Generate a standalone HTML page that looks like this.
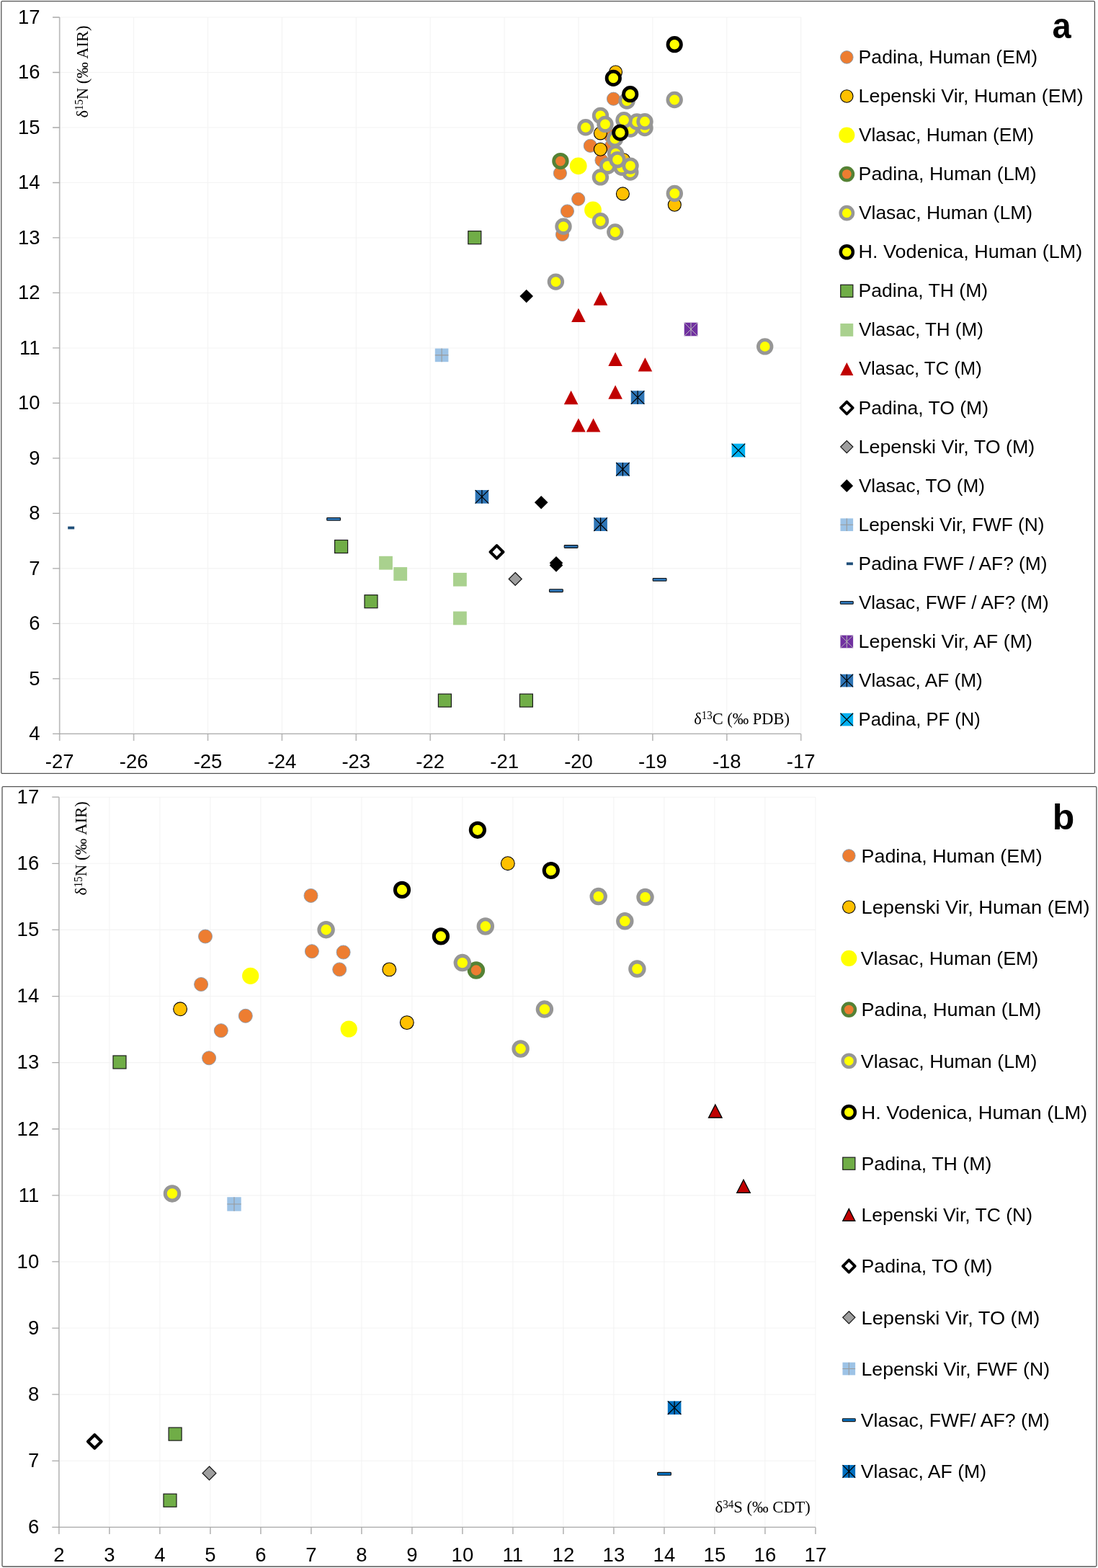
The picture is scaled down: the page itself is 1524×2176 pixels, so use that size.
<!DOCTYPE html><html><head><meta charset="utf-8"><title>Isotope scatter plots</title>
<style>html,body{margin:0;padding:0;background:#fff;}body{width:1524px;height:2176px;overflow:hidden;}svg{display:block;}</style></head><body>
<svg width="1524" height="2176" viewBox="0 0 1524 2176">
<rect width="1524" height="2176" fill="#fff"/>
<rect x="1.8" y="1.6" width="1517.6" height="1071.8" rx="1.5" fill="none" stroke="#555" stroke-width="1.3"/>
<rect x="3.0" y="1091.6" width="1518.9" height="1082.4" rx="1.5" fill="none" stroke="#555" stroke-width="1.3"/>
<path d="M185.6 24V1018.4M288.5 24V1018.4M391.4 24V1018.4M494.3 24V1018.4M597.2 24V1018.4M700.1 24V1018.4M803 24V1018.4M905.9 24V1018.4M1008.8 24V1018.4M1111.7 24V1018.4M82.7 24H1111.7M82.7 100.49H1111.7M82.7 176.98H1111.7M82.7 253.48H1111.7M82.7 329.97H1111.7M82.7 406.46H1111.7M82.7 482.95H1111.7M82.7 559.45H1111.7M82.7 635.94H1111.7M82.7 712.43H1111.7M82.7 788.92H1111.7M82.7 865.42H1111.7M82.7 941.91H1111.7" stroke="#F3F3F3" stroke-width="1.1" fill="none"/>
<path d="M82.7 24V1018.4M82.7 1018.4V1027.9M185.6 1018.4V1027.9M288.5 1018.4V1027.9M391.4 1018.4V1027.9M494.3 1018.4V1027.9M597.2 1018.4V1027.9M700.1 1018.4V1027.9M803 1018.4V1027.9M905.9 1018.4V1027.9M1008.8 1018.4V1027.9M1111.7 1018.4V1027.9" stroke="#BBBBBB" stroke-width="1.7" fill="none"/>
<path d="M82.7 1018.4H1111.7M73.1 24H82.7M73.1 100.49H82.7M73.1 176.98H82.7M73.1 253.48H82.7M73.1 329.97H82.7M73.1 406.46H82.7M73.1 482.95H82.7M73.1 559.45H82.7M73.1 635.94H82.7M73.1 712.43H82.7M73.1 788.92H82.7M73.1 865.42H82.7M73.1 941.91H82.7M73.1 1018.4H82.7" stroke="#A8A8A8" stroke-width="1.3" fill="none"/>
<g font-family='"Liberation Sans", Arial, sans-serif' font-size="27.5" fill="#000">
<text x="55.6" y="33" text-anchor="end">17</text>
<text x="55.6" y="109.49" text-anchor="end">16</text>
<text x="55.6" y="185.98" text-anchor="end">15</text>
<text x="55.6" y="262.48" text-anchor="end">14</text>
<text x="55.6" y="338.97" text-anchor="end">13</text>
<text x="55.6" y="415.46" text-anchor="end">12</text>
<text x="55.6" y="491.95" text-anchor="end">11</text>
<text x="55.6" y="568.45" text-anchor="end">10</text>
<text x="55.6" y="644.94" text-anchor="end">9</text>
<text x="55.6" y="721.43" text-anchor="end">8</text>
<text x="55.6" y="797.92" text-anchor="end">7</text>
<text x="55.6" y="874.42" text-anchor="end">6</text>
<text x="55.6" y="950.91" text-anchor="end">5</text>
<text x="55.6" y="1027.4" text-anchor="end">4</text>
<text x="82.7" y="1066.2" text-anchor="middle">-27</text>
<text x="185.6" y="1066.2" text-anchor="middle">-26</text>
<text x="288.5" y="1066.2" text-anchor="middle">-25</text>
<text x="391.4" y="1066.2" text-anchor="middle">-24</text>
<text x="494.3" y="1066.2" text-anchor="middle">-23</text>
<text x="597.2" y="1066.2" text-anchor="middle">-22</text>
<text x="700.1" y="1066.2" text-anchor="middle">-21</text>
<text x="803" y="1066.2" text-anchor="middle">-20</text>
<text x="905.9" y="1066.2" text-anchor="middle">-19</text>
<text x="1008.8" y="1066.2" text-anchor="middle">-18</text>
<text x="1111.7" y="1066.2" text-anchor="middle">-17</text>
</g>
<path d="M151.9 1106.2V2119.4M221.9 1106.2V2119.4M291.9 1106.2V2119.4M361.9 1106.2V2119.4M431.9 1106.2V2119.4M501.9 1106.2V2119.4M571.9 1106.2V2119.4M641.9 1106.2V2119.4M711.9 1106.2V2119.4M781.9 1106.2V2119.4M851.9 1106.2V2119.4M921.9 1106.2V2119.4M991.9 1106.2V2119.4M1061.9 1106.2V2119.4M1131.9 1106.2V2119.4M81.9 1106.2H1131.9M81.9 1198.31H1131.9M81.9 1290.42H1131.9M81.9 1382.53H1131.9M81.9 1474.64H1131.9M81.9 1566.75H1131.9M81.9 1658.85H1131.9M81.9 1750.96H1131.9M81.9 1843.07H1131.9M81.9 1935.18H1131.9M81.9 2027.29H1131.9" stroke="#F3F3F3" stroke-width="1.1" fill="none"/>
<path d="M81.9 1106.2V2119.4M81.9 2119.4V2128.9M151.9 2119.4V2128.9M221.9 2119.4V2128.9M291.9 2119.4V2128.9M361.9 2119.4V2128.9M431.9 2119.4V2128.9M501.9 2119.4V2128.9M571.9 2119.4V2128.9M641.9 2119.4V2128.9M711.9 2119.4V2128.9M781.9 2119.4V2128.9M851.9 2119.4V2128.9M921.9 2119.4V2128.9M991.9 2119.4V2128.9M1061.9 2119.4V2128.9M1131.9 2119.4V2128.9" stroke="#BBBBBB" stroke-width="1.7" fill="none"/>
<path d="M81.9 2119.4H1131.9M72.3 1106.2H81.9M72.3 1198.31H81.9M72.3 1290.42H81.9M72.3 1382.53H81.9M72.3 1474.64H81.9M72.3 1566.75H81.9M72.3 1658.85H81.9M72.3 1750.96H81.9M72.3 1843.07H81.9M72.3 1935.18H81.9M72.3 2027.29H81.9M72.3 2119.4H81.9" stroke="#A8A8A8" stroke-width="1.3" fill="none"/>
<g font-family='"Liberation Sans", Arial, sans-serif' font-size="27.5" fill="#000">
<text x="54.2" y="1115" text-anchor="end">17</text>
<text x="54.2" y="1207.11" text-anchor="end">16</text>
<text x="54.2" y="1299.22" text-anchor="end">15</text>
<text x="54.2" y="1391.33" text-anchor="end">14</text>
<text x="54.2" y="1483.44" text-anchor="end">13</text>
<text x="54.2" y="1575.55" text-anchor="end">12</text>
<text x="54.2" y="1667.65" text-anchor="end">11</text>
<text x="54.2" y="1759.76" text-anchor="end">10</text>
<text x="54.2" y="1851.87" text-anchor="end">9</text>
<text x="54.2" y="1943.98" text-anchor="end">8</text>
<text x="54.2" y="2036.09" text-anchor="end">7</text>
<text x="54.2" y="2128.2" text-anchor="end">6</text>
<text x="81.9" y="2167.3" text-anchor="middle">2</text>
<text x="151.9" y="2167.3" text-anchor="middle">3</text>
<text x="221.9" y="2167.3" text-anchor="middle">4</text>
<text x="291.9" y="2167.3" text-anchor="middle">5</text>
<text x="361.9" y="2167.3" text-anchor="middle">6</text>
<text x="431.9" y="2167.3" text-anchor="middle">7</text>
<text x="501.9" y="2167.3" text-anchor="middle">8</text>
<text x="571.9" y="2167.3" text-anchor="middle">9</text>
<text x="641.9" y="2167.3" text-anchor="middle">10</text>
<text x="711.9" y="2167.3" text-anchor="middle">11</text>
<text x="781.9" y="2167.3" text-anchor="middle">12</text>
<text x="851.9" y="2167.3" text-anchor="middle">13</text>
<text x="921.9" y="2167.3" text-anchor="middle">14</text>
<text x="991.9" y="2167.3" text-anchor="middle">15</text>
<text x="1061.9" y="2167.3" text-anchor="middle">16</text>
<text x="1131.9" y="2167.3" text-anchor="middle">17</text>
</g>
<g font-family='"Liberation Serif", "Times New Roman", serif' fill="#000">
<text transform="translate(121.6 163.6) rotate(-90)" x="0" y="0" font-size="23.6" textLength="128" lengthAdjust="spacingAndGlyphs">&#948;<tspan font-size="15.7" dy="-6.8">15</tspan><tspan dy="6.8">N (&#8240; AIR)</tspan></text>
<text transform="translate(963.2 1004.5)" x="0" y="0" font-size="23.6" textLength="132.8" lengthAdjust="spacingAndGlyphs">&#948;<tspan font-size="15.7" dy="-6.8">13</tspan><tspan dy="6.8">C (&#8240; PDB)</tspan></text>
<text transform="translate(120.4 1242.4) rotate(-90)" x="0" y="0" font-size="23.6" textLength="130.4" lengthAdjust="spacingAndGlyphs">&#948;<tspan font-size="15.7" dy="-6.8">15</tspan><tspan dy="6.8">N (&#8240; AIR)</tspan></text>
<text transform="translate(992.5 2099.4)" x="0" y="0" font-size="23.6" textLength="132.4" lengthAdjust="spacingAndGlyphs">&#948;<tspan font-size="15.7" dy="-6.8">34</tspan><tspan dy="6.8">S (&#8240; CDT)</tspan></text>
</g>
<circle cx="851.5" cy="137.2" r="9.1" fill="#ED7D31" stroke="#8797AA" stroke-width="0.9"/>
<circle cx="846.5" cy="188" r="9.1" fill="#ED7D31" stroke="#8797AA" stroke-width="0.9"/>
<circle cx="819.3" cy="202.3" r="9.1" fill="#ED7D31" stroke="#8797AA" stroke-width="0.9"/>
<circle cx="848.5" cy="202.5" r="9.1" fill="#ED7D31" stroke="#8797AA" stroke-width="0.9"/>
<circle cx="835" cy="222.5" r="9.1" fill="#ED7D31" stroke="#8797AA" stroke-width="0.9"/>
<circle cx="777.4" cy="240.4" r="9.1" fill="#ED7D31" stroke="#8797AA" stroke-width="0.9"/>
<circle cx="802.7" cy="276.3" r="9.1" fill="#ED7D31" stroke="#8797AA" stroke-width="0.9"/>
<circle cx="787.4" cy="293" r="9.1" fill="#ED7D31" stroke="#8797AA" stroke-width="0.9"/>
<circle cx="780.5" cy="325.5" r="9.1" fill="#ED7D31" stroke="#8797AA" stroke-width="0.9"/>
<circle cx="854.5" cy="100" r="9" fill="#FFC000" stroke="#000" stroke-width="1.1"/>
<circle cx="833.4" cy="184.9" r="9" fill="#FFC000" stroke="#000" stroke-width="1.1"/>
<circle cx="833.4" cy="207.2" r="9" fill="#FFC000" stroke="#000" stroke-width="1.1"/>
<circle cx="865.5" cy="221.8" r="9" fill="#FFC000" stroke="#000" stroke-width="1.1"/>
<circle cx="864.4" cy="268.9" r="9" fill="#FFC000" stroke="#000" stroke-width="1.1"/>
<circle cx="936.3" cy="284.2" r="9" fill="#FFC000" stroke="#000" stroke-width="1.1"/>
<circle cx="802.7" cy="230.3" r="11.9" fill="#FFFF00"/>
<circle cx="823" cy="291.5" r="11.9" fill="#FFFF00"/>
<circle cx="777.9" cy="223.6" r="9.3" fill="#ED7D31" stroke="#548235" stroke-width="4.8"/>
<circle cx="936.2" cy="138.5" r="9.3" fill="#FFFF00" stroke="#969696" stroke-width="4.8"/>
<circle cx="870.1" cy="140" r="9.3" fill="#FFFF00" stroke="#969696" stroke-width="4.8"/>
<circle cx="833.5" cy="160.5" r="9.3" fill="#FFFF00" stroke="#969696" stroke-width="4.8"/>
<circle cx="840" cy="172.4" r="9.3" fill="#FFFF00" stroke="#969696" stroke-width="4.8"/>
<circle cx="812.9" cy="176.8" r="9.3" fill="#FFFF00" stroke="#969696" stroke-width="4.8"/>
<circle cx="875.2" cy="179" r="9.3" fill="#FFFF00" stroke="#969696" stroke-width="4.8"/>
<circle cx="895" cy="177.5" r="9.3" fill="#FFFF00" stroke="#969696" stroke-width="4.8"/>
<circle cx="884" cy="169" r="9.3" fill="#FFFF00" stroke="#969696" stroke-width="4.8"/>
<circle cx="866" cy="166.7" r="9.3" fill="#FFFF00" stroke="#969696" stroke-width="4.8"/>
<circle cx="895" cy="168.7" r="9.3" fill="#FFFF00" stroke="#969696" stroke-width="4.8"/>
<circle cx="853.5" cy="192.7" r="9.3" fill="#FFFF00" stroke="#969696" stroke-width="4.8"/>
<circle cx="874.8" cy="239.1" r="9.3" fill="#FFFF00" stroke="#969696" stroke-width="4.8"/>
<circle cx="863" cy="232.3" r="9.3" fill="#FFFF00" stroke="#969696" stroke-width="4.8"/>
<circle cx="854.5" cy="212.9" r="9.3" fill="#FFFF00" stroke="#969696" stroke-width="4.8"/>
<circle cx="843.5" cy="230.3" r="9.3" fill="#FFFF00" stroke="#969696" stroke-width="4.8"/>
<circle cx="857" cy="221.7" r="9.3" fill="#FFFF00" stroke="#969696" stroke-width="4.8"/>
<circle cx="875" cy="230.1" r="9.3" fill="#FFFF00" stroke="#969696" stroke-width="4.8"/>
<circle cx="833.4" cy="245.9" r="9.3" fill="#FFFF00" stroke="#969696" stroke-width="4.8"/>
<circle cx="936.3" cy="268.5" r="9.3" fill="#FFFF00" stroke="#969696" stroke-width="4.8"/>
<circle cx="833.5" cy="306.8" r="9.3" fill="#FFFF00" stroke="#969696" stroke-width="4.8"/>
<circle cx="853.8" cy="322" r="9.3" fill="#FFFF00" stroke="#969696" stroke-width="4.8"/>
<circle cx="782" cy="314.3" r="9.3" fill="#FFFF00" stroke="#969696" stroke-width="4.8"/>
<circle cx="771.4" cy="391.1" r="9.3" fill="#FFFF00" stroke="#969696" stroke-width="4.8"/>
<circle cx="1061.7" cy="480.9" r="9.3" fill="#FFFF00" stroke="#969696" stroke-width="4.8"/>
<circle cx="936.2" cy="61.7" r="9.2" fill="#FFFF00" stroke="#000" stroke-width="4.8"/>
<circle cx="851.3" cy="108.4" r="9.2" fill="#FFFF00" stroke="#000" stroke-width="4.8"/>
<circle cx="874.7" cy="130.7" r="9.2" fill="#FFFF00" stroke="#000" stroke-width="4.8"/>
<circle cx="860.8" cy="184.1" r="9.2" fill="#FFFF00" stroke="#000" stroke-width="4.8"/>
<rect x="649.8" y="320.7" width="18" height="18" fill="#70AD47" stroke="#1a1a1a" stroke-width="1.2"/>
<rect x="464.6" y="749.5" width="18" height="18" fill="#70AD47" stroke="#1a1a1a" stroke-width="1.2"/>
<rect x="506" y="825.7" width="18" height="18" fill="#70AD47" stroke="#1a1a1a" stroke-width="1.2"/>
<rect x="608.4" y="963.1" width="18" height="18" fill="#70AD47" stroke="#1a1a1a" stroke-width="1.2"/>
<rect x="721.4" y="963.1" width="18" height="18" fill="#70AD47" stroke="#1a1a1a" stroke-width="1.2"/>
<rect x="526.1" y="771.8" width="18.8" height="18.8" fill="#A9D18E"/>
<rect x="546.3" y="787.1" width="18.8" height="18.8" fill="#A9D18E"/>
<rect x="629" y="794.9" width="18.8" height="18.8" fill="#A9D18E"/>
<rect x="629" y="848.5" width="18.8" height="18.8" fill="#A9D18E"/>
<path d="M833.5 404.6L843.3 423.8L823.7 423.8Z" fill="#C00000"/>
<path d="M802.9 427.7L812.7 446.9L793.1 446.9Z" fill="#C00000"/>
<path d="M854.1 488.7L863.9 507.9L844.3 507.9Z" fill="#C00000"/>
<path d="M895.4 496.2L905.2 515.4L885.6 515.4Z" fill="#C00000"/>
<path d="M854.1 534.6L863.9 553.8L844.3 553.8Z" fill="#C00000"/>
<path d="M792.6 542L802.4 561.2L782.8 561.2Z" fill="#C00000"/>
<path d="M802.9 580.4L812.7 599.6L793.1 599.6Z" fill="#C00000"/>
<path d="M823.6 580.4L833.4 599.6L813.8 599.6Z" fill="#C00000"/>
<path d="M689.5 757.1L698.4 766L689.5 774.9L680.6 766Z" fill="#fff" stroke="#000" stroke-width="4" stroke-linejoin="round"/>
<path d="M715.2 794.5L724.2 803.5L715.2 812.5L706.2 803.5Z" fill="#9E9E9E" stroke="#111" stroke-width="1.2"/>
<path d="M730.7 401.7L740 411L730.7 420.3L721.4 411Z" fill="#000"/>
<path d="M751.2 688L760.5 697.3L751.2 706.6L741.9 697.3Z" fill="#000"/>
<path d="M772 772L781.3 781.3L772 790.6L762.7 781.3Z" fill="#000"/>
<path d="M772 775.2L781.3 784.5L772 793.8L762.7 784.5Z" fill="#000"/>
<rect x="603.8" y="483.6" width="18.6" height="18.6" fill="#9DC3E6"/><path d="M613.1 483.6V502.2M603.8 492.9H622.4" stroke="#9a9a9a" stroke-width="1.1"/>
<rect x="94.2" y="730.6" width="9" height="3.8" fill="#1F4E79"/>
<rect x="453.7" y="718.5" width="18.8" height="3.8" rx="0.8" fill="#2E75B6" stroke="#111" stroke-width="1.1"/>
<rect x="783.2" y="756.6" width="18.8" height="3.8" rx="0.8" fill="#2E75B6" stroke="#111" stroke-width="1.1"/>
<rect x="762.5" y="817.8" width="18.8" height="3.8" rx="0.8" fill="#2E75B6" stroke="#111" stroke-width="1.1"/>
<rect x="906.2" y="802.5" width="18.8" height="3.8" rx="0.8" fill="#2E75B6" stroke="#111" stroke-width="1.1"/>
<rect x="949.7" y="447.7" width="18.6" height="18.6" fill="#7030A0"/><path d="M949.7 447.7L968.3 466.3M968.3 447.7L949.7 466.3M959 447.7V466.3" stroke="#B8B8B8" stroke-width="1"/>
<rect x="875.8" y="542.3" width="18.6" height="18.6" fill="#2E75B6"/><path d="M875.8 542.3L894.4 560.9M894.4 542.3L875.8 560.9M885.1 542.3V560.9" stroke="#000" stroke-width="1.2"/>
<rect x="855.1" y="641.9" width="18.6" height="18.6" fill="#2E75B6"/><path d="M855.1 641.9L873.7 660.5M873.7 641.9L855.1 660.5M864.4 641.9V660.5" stroke="#000" stroke-width="1.2"/>
<rect x="659.6" y="680.1" width="18.6" height="18.6" fill="#2E75B6"/><path d="M659.6 680.1L678.2 698.7M678.2 680.1L659.6 698.7M668.9 680.1V698.7" stroke="#000" stroke-width="1.2"/>
<rect x="824.3" y="718.4" width="18.6" height="18.6" fill="#2E75B6"/><path d="M824.3 718.4L842.9 737M842.9 718.4L824.3 737M833.6 718.4V737" stroke="#000" stroke-width="1.2"/>
<rect x="1015.6" y="615.7" width="18.6" height="18.6" fill="#00B0F0"/><path d="M1015.6 615.7L1034.2 634.3M1034.2 615.7L1015.6 634.3" stroke="#000" stroke-width="1.2"/>
<circle cx="431.5" cy="1242.9" r="9.51" fill="#ED7D31" stroke="#8797AA" stroke-width="0.9"/>
<circle cx="285" cy="1299.5" r="9.51" fill="#ED7D31" stroke="#8797AA" stroke-width="0.9"/>
<circle cx="432.9" cy="1320.2" r="9.51" fill="#ED7D31" stroke="#8797AA" stroke-width="0.9"/>
<circle cx="476.6" cy="1321.5" r="9.51" fill="#ED7D31" stroke="#8797AA" stroke-width="0.9"/>
<circle cx="471.2" cy="1345.4" r="9.51" fill="#ED7D31" stroke="#8797AA" stroke-width="0.9"/>
<circle cx="279.1" cy="1366" r="9.51" fill="#ED7D31" stroke="#8797AA" stroke-width="0.9"/>
<circle cx="340.8" cy="1409.8" r="9.51" fill="#ED7D31" stroke="#8797AA" stroke-width="0.9"/>
<circle cx="306.8" cy="1430.2" r="9.51" fill="#ED7D31" stroke="#8797AA" stroke-width="0.9"/>
<circle cx="290.1" cy="1468.3" r="9.51" fill="#ED7D31" stroke="#8797AA" stroke-width="0.9"/>
<circle cx="704.8" cy="1198.2" r="9.4" fill="#FFC000" stroke="#000" stroke-width="1.1"/>
<circle cx="540.3" cy="1345.4" r="9.4" fill="#FFC000" stroke="#000" stroke-width="1.1"/>
<circle cx="250.1" cy="1400.3" r="9.4" fill="#FFC000" stroke="#000" stroke-width="1.1"/>
<circle cx="564.8" cy="1419.1" r="9.4" fill="#FFC000" stroke="#000" stroke-width="1.1"/>
<circle cx="347.7" cy="1354.3" r="11.6" fill="#FFFF00"/>
<circle cx="484.2" cy="1428" r="11.6" fill="#FFFF00"/>
<circle cx="660.9" cy="1346.5" r="9.72" fill="#ED7D31" stroke="#548235" stroke-width="5.02"/>
<circle cx="452.6" cy="1290.2" r="9.72" fill="#FFFF00" stroke="#969696" stroke-width="5.02"/>
<circle cx="830.7" cy="1244.1" r="9.72" fill="#FFFF00" stroke="#969696" stroke-width="5.02"/>
<circle cx="895.5" cy="1245.1" r="9.72" fill="#FFFF00" stroke="#969696" stroke-width="5.02"/>
<circle cx="867.3" cy="1278.3" r="9.72" fill="#FFFF00" stroke="#969696" stroke-width="5.02"/>
<circle cx="673.8" cy="1285.5" r="9.72" fill="#FFFF00" stroke="#969696" stroke-width="5.02"/>
<circle cx="641.8" cy="1336.1" r="9.72" fill="#FFFF00" stroke="#969696" stroke-width="5.02"/>
<circle cx="884.4" cy="1344.6" r="9.72" fill="#FFFF00" stroke="#969696" stroke-width="5.02"/>
<circle cx="755.9" cy="1400.6" r="9.72" fill="#FFFF00" stroke="#969696" stroke-width="5.02"/>
<circle cx="722.6" cy="1455.5" r="9.72" fill="#FFFF00" stroke="#969696" stroke-width="5.02"/>
<circle cx="239" cy="1656.4" r="9.72" fill="#FFFF00" stroke="#969696" stroke-width="5.02"/>
<circle cx="662.9" cy="1151.8" r="9.61" fill="#FFFF00" stroke="#000" stroke-width="5.02"/>
<circle cx="764.8" cy="1208" r="9.61" fill="#FFFF00" stroke="#000" stroke-width="5.02"/>
<circle cx="558" cy="1234.9" r="9.61" fill="#FFFF00" stroke="#000" stroke-width="5.02"/>
<circle cx="611.9" cy="1299.4" r="9.61" fill="#FFFF00" stroke="#000" stroke-width="5.02"/>
<rect x="157" y="1465" width="18" height="18" fill="#70AD47" stroke="#1a1a1a" stroke-width="1.2"/>
<rect x="234.1" y="1981.1" width="18" height="18" fill="#70AD47" stroke="#1a1a1a" stroke-width="1.2"/>
<rect x="227" y="2073.2" width="18" height="18" fill="#70AD47" stroke="#1a1a1a" stroke-width="1.2"/>
<path d="M992.8 1533L1002 1551L983.6 1551Z" fill="#C00000" stroke="#000" stroke-width="1.4" stroke-linejoin="miter"/>
<path d="M1032 1637.2L1041.2 1655.2L1022.8 1655.2Z" fill="#C00000" stroke="#000" stroke-width="1.4" stroke-linejoin="miter"/>
<path d="M131.3 1991.2L140.6 2000.5L131.3 2009.8L122 2000.5Z" fill="#fff" stroke="#000" stroke-width="4.18" stroke-linejoin="round"/>
<path d="M290.5 2035L299.9 2044.4L290.5 2053.81L281.1 2044.4Z" fill="#9E9E9E" stroke="#111" stroke-width="1.2"/>
<rect x="315.28" y="1661.28" width="19.44" height="19.44" fill="#9DC3E6"/><path d="M325 1661.28V1680.72M315.28 1671H334.72" stroke="#9a9a9a" stroke-width="1.1"/>
<rect x="912.6" y="2043.4" width="18.8" height="3.8" rx="0.8" fill="#0070C0" stroke="#111" stroke-width="1.1"/>
<rect x="926.8" y="1944.4" width="18.6" height="18.6" fill="#0070C0"/><path d="M926.8 1944.4L945.4 1963M945.4 1944.4L926.8 1963M936.1 1944.4V1963" stroke="#000" stroke-width="1.2"/>
<g font-family='"Liberation Sans", Arial, sans-serif' font-size="26" fill="#000">
<circle cx="1175.3" cy="79.4" r="8.83" fill="#ED7D31" stroke="#8797AA" stroke-width="0.9"/>
<text x="1191.6" y="87.9" textLength="248.4" lengthAdjust="spacingAndGlyphs">Padina, Human (EM)</text>
<circle cx="1175.3" cy="133.47" r="8.73" fill="#FFC000" stroke="#000" stroke-width="1.1"/>
<text x="1191.6" y="141.97" textLength="312.2" lengthAdjust="spacingAndGlyphs">Lepenski Vir, Human (EM)</text>
<circle cx="1175.3" cy="187.54" r="11.07" fill="#FFFF00"/>
<text x="1191.9" y="196.04" textLength="243.1" lengthAdjust="spacingAndGlyphs">Vlasac, Human (EM)</text>
<circle cx="1175.3" cy="241.61" r="8.65" fill="#ED7D31" stroke="#548235" stroke-width="4.46"/>
<text x="1191.6" y="250.11" textLength="247.2" lengthAdjust="spacingAndGlyphs">Padina, Human (LM)</text>
<circle cx="1175.3" cy="295.68" r="8.65" fill="#FFFF00" stroke="#969696" stroke-width="4.46"/>
<text x="1191.9" y="304.18" textLength="241.1" lengthAdjust="spacingAndGlyphs">Vlasac, Human (LM)</text>
<circle cx="1175.3" cy="349.75" r="8.56" fill="#FFFF00" stroke="#000" stroke-width="4.46"/>
<text x="1191.6" y="358.25" textLength="310.6" lengthAdjust="spacingAndGlyphs">H. Vodenica, Human (LM)</text>
<rect x="1166.75" y="395.27" width="17.1" height="17.1" fill="#70AD47" stroke="#1a1a1a" stroke-width="1.2"/>
<text x="1191.6" y="412.32" textLength="179.6" lengthAdjust="spacingAndGlyphs">Padina, TH (M)</text>
<rect x="1166.37" y="448.96" width="17.86" height="17.86" fill="#A9D18E"/>
<text x="1191.9" y="466.39" textLength="172.9" lengthAdjust="spacingAndGlyphs">Vlasac, TH (M)</text>
<path d="M1175.3 503.03L1184.41 520.89L1166.19 520.89Z" fill="#C00000"/>
<text x="1191.9" y="520.46" textLength="170.9" lengthAdjust="spacingAndGlyphs">Vlasac, TC (M)</text>
<path d="M1175.3 557.57L1183.75 566.03L1175.3 574.49L1166.85 566.03Z" fill="#fff" stroke="#000" stroke-width="3.8" stroke-linejoin="round"/>
<text x="1191.6" y="574.53" textLength="180.4" lengthAdjust="spacingAndGlyphs">Padina, TO (M)</text>
<path d="M1175.3 611.55L1183.85 620.1L1175.3 628.65L1166.75 620.1Z" fill="#9E9E9E" stroke="#111" stroke-width="1.2"/>
<text x="1191.6" y="628.6" textLength="244.6" lengthAdjust="spacingAndGlyphs">Lepenski Vir, TO (M)</text>
<path d="M1175.3 665.33L1184.13 674.17L1175.3 683L1166.46 674.17Z" fill="#000"/>
<text x="1191.9" y="682.67" textLength="175.1" lengthAdjust="spacingAndGlyphs">Vlasac, TO (M)</text>
<rect x="1166.46" y="719.4" width="17.67" height="17.67" fill="#9DC3E6"/><path d="M1175.3 719.4V737.08M1166.46 728.24H1184.13" stroke="#9a9a9a" stroke-width="1.1"/>
<text x="1191.6" y="736.74" textLength="258" lengthAdjust="spacingAndGlyphs">Lepenski Vir, FWF (N)</text>
<rect x="1174.9" y="780.41" width="9" height="3.8" fill="#1F4E79"/>
<text x="1191.6" y="790.81" textLength="262" lengthAdjust="spacingAndGlyphs">Padina FWF / AF? (M)</text>
<rect x="1166.37" y="834.48" width="17.86" height="3.8" rx="0.8" fill="#2E75B6" stroke="#111" stroke-width="1.1"/>
<text x="1191.9" y="844.88" textLength="263.7" lengthAdjust="spacingAndGlyphs">Vlasac, FWF / AF? (M)</text>
<rect x="1166.46" y="881.61" width="17.67" height="17.67" fill="#7030A0"/><path d="M1166.46 881.61L1184.13 899.28M1184.13 881.61L1166.46 899.28M1175.3 881.61V899.28" stroke="#B8B8B8" stroke-width="1"/>
<text x="1191.6" y="898.95" textLength="241.4" lengthAdjust="spacingAndGlyphs">Lepenski Vir, AF (M)</text>
<rect x="1166.46" y="935.68" width="17.67" height="17.67" fill="#2E75B6"/><path d="M1166.46 935.68L1184.13 953.36M1184.13 935.68L1166.46 953.36M1175.3 935.68V953.36" stroke="#000" stroke-width="1.2"/>
<text x="1191.9" y="953.02" textLength="171.9" lengthAdjust="spacingAndGlyphs">Vlasac, AF (M)</text>
<rect x="1166.46" y="989.75" width="17.67" height="17.67" fill="#00B0F0"/><path d="M1166.46 989.75L1184.13 1007.43M1184.13 989.75L1166.46 1007.43" stroke="#000" stroke-width="1.2"/>
<text x="1191.6" y="1007.09" textLength="169.2" lengthAdjust="spacingAndGlyphs">Padina, PF (N)</text>
</g>
<g font-family='"Liberation Sans", Arial, sans-serif' font-size="26.3" fill="#000">
<circle cx="1178.3" cy="1187.5" r="8.83" fill="#ED7D31" stroke="#8797AA" stroke-width="0.9"/>
<text x="1195.5" y="1196.8" textLength="251.1" lengthAdjust="spacingAndGlyphs">Padina, Human (EM)</text>
<circle cx="1178.3" cy="1258.7" r="8.73" fill="#FFC000" stroke="#000" stroke-width="1.1"/>
<text x="1195.5" y="1268" textLength="317.1" lengthAdjust="spacingAndGlyphs">Lepenski Vir, Human (EM)</text>
<circle cx="1178.3" cy="1329.9" r="11.07" fill="#FFFF00"/>
<text x="1194.8" y="1339.2" textLength="246.4" lengthAdjust="spacingAndGlyphs">Vlasac, Human (EM)</text>
<circle cx="1178.3" cy="1401.1" r="8.65" fill="#ED7D31" stroke="#548235" stroke-width="4.46"/>
<text x="1195.5" y="1410.4" textLength="249.9" lengthAdjust="spacingAndGlyphs">Padina, Human (LM)</text>
<circle cx="1178.3" cy="1472.3" r="8.65" fill="#FFFF00" stroke="#969696" stroke-width="4.46"/>
<text x="1194.8" y="1481.6" textLength="244.6" lengthAdjust="spacingAndGlyphs">Vlasac, Human (LM)</text>
<circle cx="1178.3" cy="1543.5" r="8.56" fill="#FFFF00" stroke="#000" stroke-width="4.46"/>
<text x="1195.5" y="1552.8" textLength="313.7" lengthAdjust="spacingAndGlyphs">H. Vodenica, Human (LM)</text>
<rect x="1169.75" y="1606.15" width="17.1" height="17.1" fill="#70AD47" stroke="#1a1a1a" stroke-width="1.2"/>
<text x="1195.5" y="1624" textLength="180.9" lengthAdjust="spacingAndGlyphs">Padina, TH (M)</text>
<path d="M1178.3 1677.62L1186.76 1694.18L1169.84 1694.18Z" fill="#C00000" stroke="#000" stroke-width="1.4" stroke-linejoin="miter"/>
<text x="1195.5" y="1695.2" textLength="237.5" lengthAdjust="spacingAndGlyphs">Lepenski Vir, TC (N)</text>
<path d="M1178.3 1748.64L1186.75 1757.1L1178.3 1765.55L1169.85 1757.1Z" fill="#fff" stroke="#000" stroke-width="3.8" stroke-linejoin="round"/>
<text x="1195.5" y="1766.4" textLength="181.9" lengthAdjust="spacingAndGlyphs">Padina, TO (M)</text>
<path d="M1178.3 1819.75L1186.85 1828.3L1178.3 1836.85L1169.75 1828.3Z" fill="#9E9E9E" stroke="#111" stroke-width="1.2"/>
<text x="1195.5" y="1837.6" textLength="247.9" lengthAdjust="spacingAndGlyphs">Lepenski Vir, TO (M)</text>
<rect x="1169.46" y="1890.66" width="17.67" height="17.67" fill="#9DC3E6"/><path d="M1178.3 1890.66V1908.34M1169.46 1899.5H1187.13" stroke="#9a9a9a" stroke-width="1.1"/>
<text x="1195.5" y="1908.8" textLength="261.5" lengthAdjust="spacingAndGlyphs">Lepenski Vir, FWF (N)</text>
<rect x="1169.37" y="1968.8" width="17.86" height="3.8" rx="0.8" fill="#0070C0" stroke="#111" stroke-width="1.1"/>
<text x="1194.8" y="1980" textLength="262.2" lengthAdjust="spacingAndGlyphs">Vlasac, FWF/ AF? (M)</text>
<rect x="1169.46" y="2033.07" width="17.67" height="17.67" fill="#0070C0"/><path d="M1169.46 2033.07L1187.13 2050.74M1187.13 2033.07L1169.46 2050.74M1178.3 2033.07V2050.74" stroke="#000" stroke-width="1.2"/>
<text x="1194.8" y="2051.2" textLength="174.2" lengthAdjust="spacingAndGlyphs">Vlasac, AF (M)</text>
</g>
<text x="1460.6" y="53.2" font-family='"Liberation Sans", Arial, sans-serif' font-weight="bold" font-size="50.5" textLength="26.2" lengthAdjust="spacingAndGlyphs">a</text>
<text x="1460.7" y="1150.6" font-family='"Liberation Sans", Arial, sans-serif' font-weight="bold" font-size="50">b</text>
</svg></body></html>
